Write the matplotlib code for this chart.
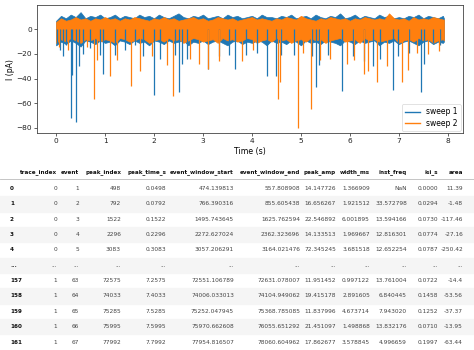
import matplotlib
matplotlib.use("Agg")
import matplotlib.pyplot as plt
from matplotlib import font_manager
from matplotlib.patches import Rectangle
from matplotlib.lines import Line2D

# ---------------- data: traces ----------------
knot_t = [round(0.1 * i, 1) for i in range(80)] + [7.92]
blue_top = [7, 11, 9, 12, 10, 14, 9, 11, 10, 12, 9, 10, 12, 9, 11, 10, 9, 12, 10, 11,
            9, 12, 10, 9, 11, 13, 10, 9, 11, 10, 12, 9, 10, 11, 9, 12, 10, 11, 9, 10,
            11, 9, 12, 10, 10, 9, 11, 10, 12, 9, 10, 11, 9, 12, 10, 9, 11, 10, 13, 9,
            10, 12, 9, 11, 10, 9, 12, 10, 11, 9, 10, 9, 11, 10, 12, 9, 11, 10, 9, 11, 9]
orange_top = [6, 9, 7, 8, 10, 8, 9, 7, 9, 8, 10, 8, 9, 7, 9, 8, 10, 9, 8, 7,
              9, 8, 10, 8, 9, 7, 8, 9, 10, 8, 9, 7, 8, 10, 9, 8, 9, 7, 8, 9,
              10, 8, 9, 8, 7, 9, 8, 10, 9, 8, 11, 9, 8, 7, 9, 8, 10, 9, 8, 9,
              7, 9, 8, 10, 9, 8, 9, 8, 13, 9, 8, 9, 7, 10, 8, 9, 8, 10, 9, 8, 8]
blue_bot = [-13, -10, -12, -9, -11, -14, -9, -10, -12, -9, -11, -10, -13, -9, -10, -12, -9, -11, -10, -13,
            -9, -10, -12, -9, -11, -10, -9, -13, -10, -11, -9, -12, -10, -9, -11, -13, -10, -9, -12, -10,
            -11, -9, -10, -13, -9, -11, -10, -12, -9, -10, -13, -9, -11, -10, -12, -9, -10, -11, -13, -9,
            -10, -12, -9, -11, -10, -9, -13, -10, -11, -9, -12, -10, -9, -11, -13, -10, -9, -12, -10, -11, -10]
orange_bot = [-11, -8, -10, -7, -9, -11, -8, -9, -7, -10, -8, -9, -11, -7, -8, -10, -9, -7, -8, -11,
              -9, -8, -10, -7, -9, -8, -11, -9, -7, -8, -10, -9, -8, -11, -7, -9, -8, -10, -9, -7,
              -8, -11, -9, -8, -10, -7, -9, -8, -11, -9, -8, -10, -7, -9, -8, -11, -9, -8, -7, -10,
              -9, -8, -11, -7, -9, -8, -10, -9, -8, -7, -11, -9, -8, -10, -7, -9, -8, -11, -9, -8, -9]

blue_ev_t = [0.01, 0.08, 0.15, 0.20, 0.30, 0.33, 0.41, 0.46, 0.54, 0.69, 0.90, 0.95, 1.20, 1.41,
             1.61, 1.78, 1.99, 2.12, 2.43, 2.50, 2.57, 2.67, 3.10, 3.32, 3.53, 3.66, 3.88, 4.10,
             4.30, 4.49, 4.60, 4.85, 5.22, 5.31, 5.36, 5.56, 5.83, 6.07, 6.29, 6.48, 6.62, 6.88,
             6.99, 7.20, 7.46, 7.52, 7.69, 7.84]
blue_ev_a = [-11, -17, -22, -13, -72, -37, -75.6, -30, -20, -15, -21, -36, -21, -17,
             -13, -22, -53, -24, -21, -51, -28, -24, -32, -22, -21, -32, -21, -19.5,
             -37.7, -37.7, -21, -21, -22, -47, -29, -21, -50, -22, -26, -30, -24, -49,
             -22, -19.5, -51, -28, -11, -13]
orange_ev_t = [0.05, 0.25, 0.63, 0.78, 0.83, 1.10, 1.24, 1.53, 1.71, 1.95, 2.26, 2.38, 2.74,
               2.92, 3.10, 3.32, 3.79, 4.03, 4.53, 4.57, 4.94, 5.05, 5.21, 5.39, 5.60, 5.94,
               6.09, 6.28, 6.38, 6.56, 6.75, 7.06, 7.18, 7.37, 7.60, 7.81]
orange_ev_a = [-14, -17, -14, -57, -25, -38, -25, -46, -34, -22, -29, -54, -24,
               -28, -32, -26, -26, -17, -57, -43, -80, -19.5, -65, -25, -24, -28,
               -25, -36, -34, -43, -30, -43, -33, -19.5, -20, -18]

# ---------------- data: table ----------------
table_columns = ["trace_index", "event", "peak_index", "peak_time_s", "event_window_start",
                 "event_window_end", "peak_amp", "width_ms", "inst_freq", "isi_s", "area"]
row_labels = ["0", "1", "2", "3", "4", "...", "157", "158", "159", "160", "161"]
col_trace_index = ["0", "0", "0", "0", "0", "...", "1", "1", "1", "1", "1"]
col_event = ["1", "2", "3", "4", "5", "...", "63", "64", "65", "66", "67"]
col_peak_index = ["498", "792", "1522", "2296", "3083", "...", "72575", "74033", "75285", "75995", "77992"]
col_peak_time_s = ["0.0498", "0.0792", "0.1522", "0.2296", "0.3083", "...",
                   "7.2575", "7.4033", "7.5285", "7.5995", "7.7992"]
col_window_start = ["474.139813", "766.390316", "1495.743645", "2272.627024", "3057.206291", "...",
                    "72551.106789", "74006.033013", "75252.047945", "75970.662608", "77954.816507"]
col_window_end = ["557.808908", "855.605438", "1625.762594", "2362.323696", "3164.021476", "...",
                  "72631.078007", "74104.949062", "75368.785085", "76055.651292", "78060.604962"]
col_peak_amp = ["14.147726", "16.656267", "22.546892", "14.133513", "72.345245", "...",
                "11.951452", "19.415178", "11.837996", "21.451097", "17.862677"]
col_width_ms = ["1.366909", "1.921512", "6.001895", "1.969667", "3.681518", "...",
                "0.997122", "2.891605", "4.673714", "1.498868", "3.578845"]
col_inst_freq = ["NaN", "33.572798", "13.594166", "12.816301", "12.652254", "...",
                 "13.761004", "6.840445", "7.943020", "13.832176", "4.996659"]
col_isi_s = ["0.0000", "0.0294", "0.0730", "0.0774", "0.0787", "...",
             "0.0722", "0.1458", "0.1252", "0.0710", "0.1997"]
col_area = ["11.39", "-1.48", "-117.46", "-27.16", "-250.42", "...",
            "-14.4", "-53.56", "-37.37", "-13.95", "-63.44"]
table_values = [col_trace_index, col_event, col_peak_index, col_peak_time_s, col_window_start,
                col_window_end, col_peak_amp, col_width_ms, col_inst_freq, col_isi_s, col_area]

# ---------------- figure ----------------
W, H = 474, 350
fig = plt.figure(figsize=(W / 100, H / 100), dpi=100)
ax = fig.add_axes([37 / W, 1 - 133.3 / H, (463 - 37) / W, (133.3 - 5) / H])

blue, orange = "#1f77b4", "#ff7f0e"
ax.fill_between(knot_t, blue_bot, blue_top, color=blue, lw=0.5, edgecolor=blue)
ax.vlines(blue_ev_t, 0, blue_ev_a, color=blue, lw=0.9)
ax.fill_between(knot_t, orange_bot, orange_top, color=orange, lw=0.5, edgecolor=orange)
ax.vlines(orange_ev_t, 0, orange_ev_a, color=orange, lw=0.9)

ax.set_xlim(-0.39, 8.31)
ax.set_ylim(-84.5, 19.8)
ax.set_xticks([0, 1, 2, 3, 4, 5, 6, 7, 8])
ax.set_yticks([0, -20, -40, -60, -80])
ax.tick_params(labelsize=5.3, length=2, width=0.5, pad=1.5, colors="#222")
for s in ax.spines.values():
    s.set_linewidth(0.6)
    s.set_color("#444")
ax.set_xlabel("Time (s)", fontsize=5.6, labelpad=2)
ax.set_ylabel("I (pA)", fontsize=5.6, labelpad=1)
handles = [Line2D([], [], color=blue, lw=1.0), Line2D([], [], color=orange, lw=1.0)]
leg = ax.legend(handles, ["sweep 1", "sweep 2"], loc="lower right", fontsize=5.5,
                handlelength=2.0, borderpad=0.4, labelspacing=0.35, borderaxespad=0.3)
leg.get_frame().set_linewidth(0.5)

# ---------------- table ----------------
names = {f.name for f in font_manager.fontManager.ttflist}
if "DejaVu Sans Condensed" in names:
    tfam, hsize, vsize = "DejaVu Sans Condensed", 4.5, 4.6
else:
    tfam, hsize, vsize = "DejaVu Sans", 4.1, 4.2
right_edges = [57, 79, 121, 166, 234, 300, 336, 370, 407, 438, 463]
header_y = 172
row_y0, row_dy = 188.5, 15.35


def fx(x):
    return x / W


def fy(y):
    return 1 - y / H


for i in range(len(row_labels)):
    if i % 2 == 1:
        yc = row_y0 + row_dy * i
        fig.patches.append(Rectangle((0, fy(yc + row_dy / 2)), 1, row_dy / H,
                                     transform=fig.transFigure, color="#f5f5f5", zorder=0))
fig.add_artist(Line2D([0, 1], [fy(179), fy(179)], transform=fig.transFigure, color="#bbb", lw=0.6))

for c, name in enumerate(table_columns):
    fig.text(fx(right_edges[c]), fy(header_y), name, ha="right", va="center",
             family=tfam, fontsize=hsize, fontweight="bold", color="#111")
for i, lab in enumerate(row_labels):
    yc = row_y0 + row_dy * i
    fig.text(fx(10), fy(yc), lab, ha="left", va="center", family=tfam, fontsize=hsize,
             fontweight="bold", color="#111")
    for c in range(len(table_columns)):
        fig.text(fx(right_edges[c]), fy(yc), table_values[c][i], ha="right", va="center",
                 family=tfam, fontsize=vsize, color="#444")

fig.savefig("out.png", dpi=100)
